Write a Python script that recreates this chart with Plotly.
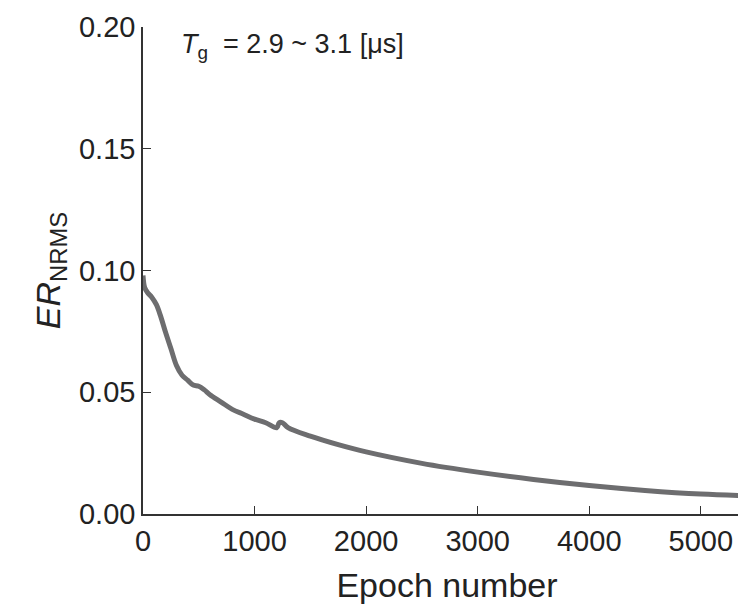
import plotly.graph_objects as go

epoch = [0, 15, 40, 80, 120, 160, 200, 250, 300, 350, 400, 450, 500, 550, 600, 700, 800, 900,
         1000, 1100, 1200, 1220, 1250, 1300, 1500, 1750, 2000, 2500, 3000, 3500, 4000, 4500, 5000, 5450]
er = [0.098, 0.093, 0.091, 0.089, 0.086, 0.081, 0.075, 0.068, 0.061, 0.057, 0.055, 0.053, 0.0525,
      0.051, 0.049, 0.046, 0.043, 0.041, 0.039, 0.0375, 0.0355, 0.0375, 0.0375, 0.0355, 0.032,
      0.0285, 0.0255, 0.0208, 0.0172, 0.0142, 0.0117, 0.0097, 0.0082, 0.0075]

fig = go.Figure()
fig.add_trace(go.Scatter(x=epoch, y=er, mode='lines',
                         line=dict(color='#6d6d6f', width=5), line_shape='spline'))

axis_style = dict(showline=True, linecolor='#333', linewidth=1.5, mirror=False,
                  ticks='inside', ticklen=8, tickcolor='#333', showgrid=False, zeroline=False,
                  tickfont=dict(size=29, color='#222'))
fig.update_xaxes(range=[0, 5450], dtick=1000, title=dict(text='Epoch number', font=dict(size=34, color='#222'), standoff=18),
                 **axis_style)
fig.update_yaxes(range=[0, 0.2001], dtick=0.05, tickformat='.2f',
                 title=dict(text='<i>ER</i><sub>NRMS</sub>', font=dict(size=34, color='#222'), standoff=8),
                 **axis_style)
fig.add_annotation(x=0.06, y=1.0, xref='paper', yref='paper', xanchor='left', yanchor='top',
                   showarrow=False, text='<i>T</i><sub>g</sub>  = 2.9 ~ 3.1 [μs]',
                   font=dict(size=27, color='#222'))
fig.update_layout(width=746, height=616, margin=dict(l=135, r=3, t=16, b=110),
                  plot_bgcolor='white', paper_bgcolor='white', showlegend=False,
                  font=dict(family='Liberation Sans, Arial'))
fig.write_html("out.html")
